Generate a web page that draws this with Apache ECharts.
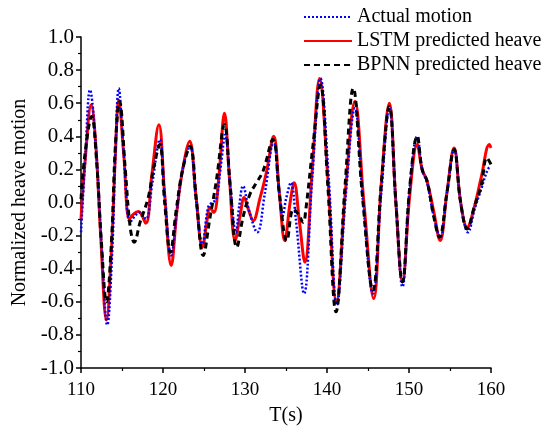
<!DOCTYPE html>
<html>
<head>
<meta charset="utf-8">
<script src="https://cdn.jsdelivr.net/npm/echarts@6/dist/echarts.min.js"></script>
<style>
html,body{margin:0;padding:0;background:#fff;}
#chart{width:550px;height:439px;}
</style>
</head>
<body>
<div id="chart"></div>
<script>
// Data: [time (s), normalized heave]
var actualMotion = [
 [110.0,-0.18],[110.5,0.25],[111.1,0.68],[111.8,0.35],[112.5,-0.25],[113.2,-0.74],[113.8,-0.30],
 [114.2,0.30],[114.6,0.69],[115.2,0.30],[116.0,-0.12],[116.6,-0.08],[117.1,-0.06],[117.9,-0.10],
 [118.7,0.12],[119.6,0.38],[120.2,0.05],[121.0,-0.32],[121.7,-0.05],[122.4,0.20],[123.3,0.34],
 [124.0,0.03],[124.8,-0.25],[125.5,-0.03],[126.0,0.00],[126.5,0.02],[127.0,0.20],[127.6,0.41],
 [128.2,0.10],[128.9,-0.18],[129.3,-0.02],[129.75,0.10],[130.5,-0.05],[131.5,-0.18],[132.4,0.05],
 [133.5,0.37],[134.1,0.10],[134.6,-0.08],[135.0,0.02],[135.6,0.12],[136.2,-0.10],[137.2,-0.55],
 [138.2,0.15],[139.2,0.75],[140.2,0.15],[141.2,-0.62],[142.3,0.05],[143.4,0.57],[144.4,0.00],
 [145.6,-0.55],[146.6,0.05],[147.6,0.57],[148.4,0.00],[149.2,-0.51],[150.1,0.10],[151.0,0.40],
 [151.6,0.20],[152.2,0.12],[153.0,-0.08],[153.8,-0.21],[154.6,0.05],[155.5,0.32],[156.3,0.00],
 [157.2,-0.18],[158.0,-0.04],[158.8,0.08],[159.6,0.20],[160.0,0.22]
];
var lstmPredicted = [
 [110.0,-0.10],[110.5,0.25],[111.25,0.59],[111.8,0.35],[112.4,-0.20],[113.1,-0.71],[113.7,-0.30],
 [114.2,0.30],[114.6,0.62],[115.2,0.30],[115.9,-0.10],[116.4,-0.07],[117.0,-0.055],[117.9,-0.125],
 [118.6,0.15],[119.5,0.47],[120.2,0.05],[121.0,-0.38],[121.7,-0.05],[122.4,0.20],[123.25,0.37],
 [124.0,0.05],[124.8,-0.27],[125.4,-0.10],[125.7,-0.03],[126.2,-0.06],[126.8,0.15],[127.5,0.54],
 [128.1,0.15],[128.8,-0.23],[129.4,-0.08],[129.9,0.03],[130.4,-0.04],[131.0,-0.11],[131.8,0.02],
 [132.6,0.18],[133.5,0.40],[134.2,0.05],[134.85,-0.23],[135.5,0.00],[136.0,0.12],[136.6,-0.10],
 [137.3,-0.36],[138.2,0.20],[139.1,0.75],[140.1,0.15],[141.15,-0.60],[142.3,0.10],[143.4,0.61],
 [144.5,0.00],[145.7,-0.58],[146.6,0.10],[147.6,0.60],[148.4,0.00],[149.2,-0.48],[150.1,0.05],
 [151.0,0.35],[151.6,0.20],[152.2,0.13],[153.0,-0.05],[153.8,-0.23],[154.6,0.05],[155.5,0.33],
 [156.3,0.00],[157.1,-0.15],[158.0,-0.02],[158.8,0.15],[159.8,0.35],[160.0,0.33]
];
var bpnnPredicted = [
 [110.0,0.02],[110.5,0.30],[111.3,0.52],[111.9,0.25],[112.5,-0.25],[113.1,-0.60],[113.7,-0.25],
 [114.2,0.35],[114.7,0.61],[115.4,0.20],[116.0,-0.15],[116.5,-0.24],[117.2,-0.12],[118.2,0.03],
 [118.9,0.22],[119.6,0.35],[120.2,0.00],[120.9,-0.30],[121.6,-0.05],[122.4,0.20],[123.3,0.34],
 [124.1,0.00],[124.9,-0.32],[125.7,-0.10],[126.5,0.13],[127.5,0.47],[128.2,0.10],[129.0,-0.27],
 [129.8,-0.08],[130.6,0.05],[131.4,0.12],[132.2,0.19],[133.4,0.38],[134.2,0.05],[135.1,-0.23],
 [135.9,-0.04],[136.5,-0.07],[137.1,-0.12],[137.4,-0.05],[138.3,0.35],[139.2,0.71],[140.1,0.10],
 [141.1,-0.66],[142.2,0.10],[143.2,0.69],[144.3,0.05],[145.6,-0.53],[146.6,0.10],[147.6,0.58],
 [148.4,0.00],[149.2,-0.48],[150.1,0.10],[151.0,0.40],[151.6,0.20],[152.2,0.13],[153.0,-0.08],
 [153.7,-0.21],[154.6,0.05],[155.5,0.32],[156.3,0.00],[157.1,-0.16],[158.0,-0.02],[158.8,0.10],
 [159.5,0.27],[160.0,0.23]
];
var seriesNames = ['Actual motion', 'LSTM predicted heave', 'BPNN predicted heave'];
var xTitle = 'T(s)';
var yTitle = 'Normalized heave motion';

var FONT = '"Times New Roman","Liberation Serif",serif';
var chart = echarts.init(document.getElementById('chart'), null, {renderer:'canvas'});
function axisCommon() {
  return {
    axisLine: {show:true, onZero:false, lineStyle:{color:'#000', width:1.5}},
    axisTick: {show:true, inside:false, length:5, lineStyle:{color:'#000', width:1.5}},
    minorTick: {show:true, splitNumber:2, length:3, lineStyle:{color:'#000', width:1.2}},
    splitLine: {show:false},
    axisLabel: {color:'#000', fontFamily:FONT, fontSize:19},
    nameTextStyle: {color:'#000', fontFamily:FONT, fontSize:20}
  };
}
var xAxis = Object.assign(axisCommon(), {
  type:'value', min:110, max:160, interval:10,
  name:xTitle, nameLocation:'middle', nameGap:38
});
xAxis.axisLabel.margin = 13;
var yAxis = Object.assign(axisCommon(), {
  type:'value', min:-1, max:1, interval:0.2,
  name:yTitle, nameLocation:'middle', nameGap:51
});
yAxis.axisLabel.margin = 7;
yAxis.axisLabel.fontSize = 21;
yAxis.axisLabel.formatter = function(v){ return v.toFixed(1); };

chart.setOption({
  animation:false,
  backgroundColor:'#fff',
  grid:{left:81, right:59, top:37, bottom:71, containLabel:false},
  legend:{
    orient:'vertical', left:298, top:2, itemWidth:48, itemHeight:14, itemGap:4,
    itemStyle:{opacity:0},
    textStyle:{color:'#000', fontFamily:FONT, fontSize:20},
    data:seriesNames
  },
  xAxis: xAxis,
  yAxis: yAxis,
  series:[
    {name:seriesNames[0], type:'line', data:actualMotion, smooth:0.4, symbol:'none', z:3,
     lineStyle:{color:'#0000ff', width:2.5, type:[2,2]}, itemStyle:{color:'#0000ff'}},
    {name:seriesNames[1], type:'line', data:lstmPredicted, smooth:0.4, symbol:'none', z:2,
     lineStyle:{color:'#ff0000', width:3, type:'solid'}, itemStyle:{color:'#ff0000'}},
    {name:seriesNames[2], type:'line', data:bpnnPredicted, smooth:0.4, symbol:'none', z:4,
     lineStyle:{color:'#000000', width:3, type:[6,4]}, itemStyle:{color:'#000000'}}
  ]
});
</script>
</body>
</html>
